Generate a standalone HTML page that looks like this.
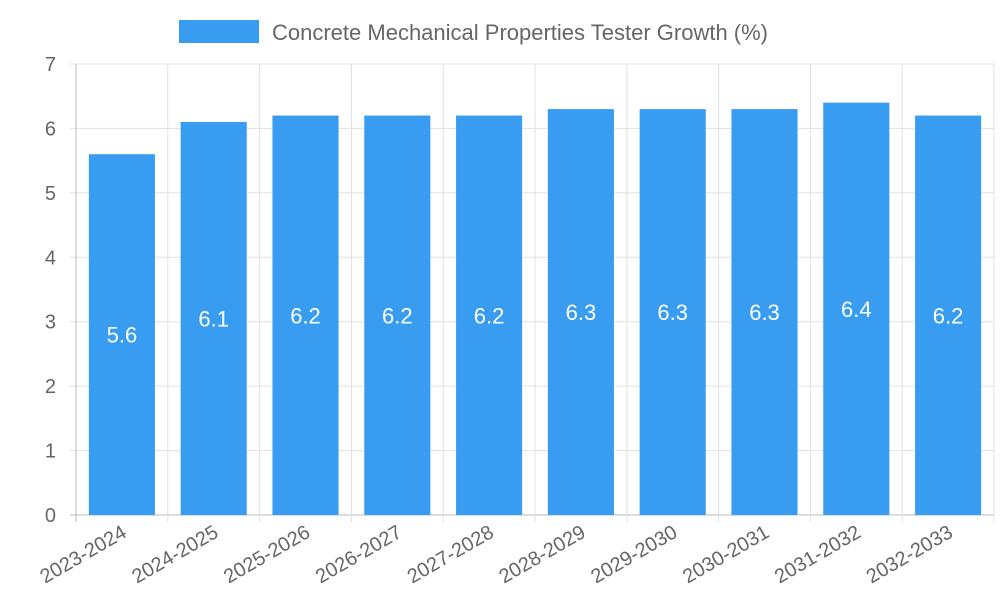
<!DOCTYPE html>
<html><head><meta charset="utf-8"><style>
body{margin:0;background:#fff;font-family:"Liberation Sans",sans-serif}
svg{display:block}
</style></head><body>
<svg id="chart" width="1000" height="600" xmlns="http://www.w3.org/2000/svg">
<g>
<rect x="179" y="20" width="80" height="23" fill="#389cf0"/>
<text x="272" y="40" font-size="22" fill="#666">Concrete Mechanical Properties Tester Growth (%)</text>
</g>
<g id="grid"></g><g id="bars"></g><g id="axes"></g>
</svg>
<script>
const categories=["2023-2024","2024-2025","2025-2026","2026-2027","2027-2028","2028-2029","2029-2030","2030-2031","2031-2032","2032-2033"];
const values=[5.6,6.1,6.2,6.2,6.2,6.3,6.3,6.3,6.4,6.2];
const yTicks=[0,1,2,3,4,5,6,7];
const NS="http://www.w3.org/2000/svg";
const L=76,R=994,T=64,B=515,yMax=7;
const y=v=>B-(v/yMax)*(B-T);
const band=(R-L)/categories.length;
const x=i=>L+band*i;
function mk(parent,tag,attrs,text){const e=document.createElementNS(NS,tag);for(const k in attrs)e.setAttribute(k,attrs[k]);if(text!==undefined)e.textContent=text;document.getElementById(parent).appendChild(e);return e;}
yTicks.forEach(t=>{
const g=mk("grid","line",{x1:70,x2:R,y1:y(t),y2:y(t),stroke:t===0?"#bbb":"#e0e0e0","stroke-width":1});


const lb=mk("axes","text",{x:56,y:y(t)+7,"font-size":20,fill:"#666","text-anchor":"end"},String(t));


});
for(let i=0;i<=categories.length;i++){
const g=mk("grid","line",{x1:x(i),x2:x(i),y1:T,y2:B+7,stroke:i===0?"#bbb":"#e0e0e0","stroke-width":1});


}
categories.forEach((c,i)=>{
const bw=band*0.72,cx=x(i)+band/2;
const r=mk("bars","rect",{x:cx-bw/2,y:y(values[i]),width:bw,height:B-y(values[i]),fill:"#389cf0"});


const v=mk("bars","text",{x:cx,y:(y(values[i])+B)/2+8,"font-size":22,fill:"#fff","text-anchor":"middle"},String(values[i]));


const lb=mk("axes","text",{x:cx+6,y:536,"font-size":20,fill:"#666","text-anchor":"end",transform:`rotate(-30 ${cx+6} 536)`},c);


});
</script>
</body></html>
